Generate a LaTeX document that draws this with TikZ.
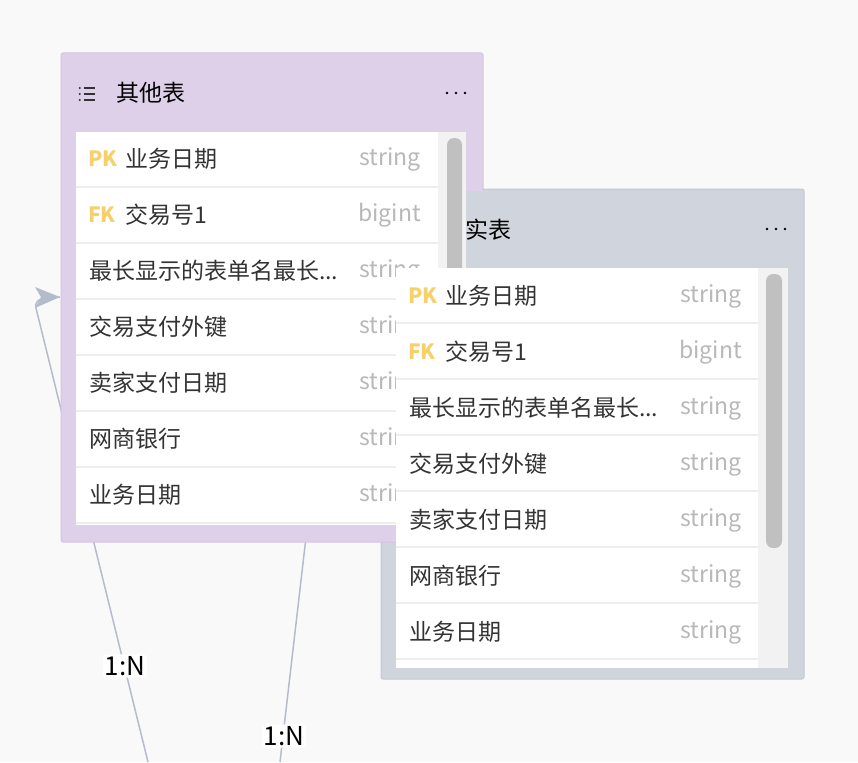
\documentclass[tikz,border=0pt]{standalone}
\usepackage{fontspec}
\setmainfont{Noto Sans CJK SC}
\usetikzlibrary{arrows.meta}
\newcommand\trdots{...}
\definecolor{bg}{HTML}{F9F9F9}
\definecolor{purp}{HTML}{DDD0E8}
\definecolor{purpb}{HTML}{D3C5E2}
\definecolor{gry}{HTML}{D0D4DC}
\definecolor{gryb}{HTML}{C4C9D3}
\definecolor{txt}{HTML}{333333}
\definecolor{typ}{HTML}{B8B8B8}
\definecolor{key}{HTML}{F5D06B}
\definecolor{sep}{HTML}{EEEEEE}
\definecolor{lin}{HTML}{B4BCCC}
\definecolor{thumb}{HTML}{C0C0C0}
\definecolor{track}{HTML}{F2F2F2}
\tikzset{
 nm/.style={anchor=west,text=txt,font=\fontsize{23}{23}\selectfont,inner sep=0pt},
 ty/.style={anchor=east,text=typ,font=\fontsize{23}{23}\selectfont,inner sep=0pt},
 ky/.style={anchor=west,text=key,font=\fontsize{21}{21}\selectfont\bfseries,inner sep=0pt},
 conn/.style={draw=lin,line width=1.5pt},
 lbl/.style={fill=white,rounded corners=4pt,text=black,font=\fontsize{26}{26}\selectfont,inner sep=2pt},
 ttl/.style={anchor=west,text=black,font=\fontsize{23}{23}\selectfont,inner sep=0pt}
}
\newcommand\tdots[2]{\fill[black] (#1-9,#2) circle (1.4pt) (#1,#2) circle (1.4pt) (#1+9,#2) circle (1.4pt);}
\begin{document}
\begin{tikzpicture}[x=1pt,y=-1pt]
\fill[bg] (0,0) rectangle (858,762);
\useasboundingbox (0,0) rectangle (858,762);
% connectors
\coordinate (l0) at (148,762);
\coordinate (lb) at (34,300);
\coordinate (ltip) at (60,297);
\coordinate (r0) at (280,762);
\coordinate (r1) at (308,520);
\draw[conn,rounded corners=8pt] (l0) -- (lb) -- (ltip);
\fill[lin] (ltip) -- ++(-25,-10) -- ++(6,10) -- ++(-6,11) -- cycle;
\draw[conn] (r0) -- (r1);
\node[lbl] (lab1) at (125,666) {1:N};
\node[lbl] (lab2) at (284,736) {1:N};
% gray box frame
\draw[fill=gry,draw=gryb,line width=1pt,rounded corners=2pt] (381,189) rectangle (804,679);
\tdots{776}{229}
% purple box
\draw[fill=purp,draw=purpb,line width=1pt,rounded corners=2pt] (61,53) rectangle (483,542);
\fill[white] (76,132) rectangle (438,525);
\fill[track] (438,132) rectangle (466,525);
\fill[thumb,rounded corners=7pt] (447,138) rectangle (462,300);
\foreach \y in {187,243,299,355,411,467,523} \draw[sep,line width=1.2pt] (76,\y) -- (438,\y);
\node[text=txt] (picon) at (87,94) {\tikz[x=1pt,y=-1pt]{\foreach \v in {-6,0,6}{\fill (-7,\v) circle (1.2pt); \draw[line width=1.4pt] (-3,\v) -- (8,\v);}}};
\node[ttl] (ptitle) at (116,93) {其他表};
\tdots{456}{93}
\node[ky] (pk1) at (88,159) {PK};
\node[nm] (pn1) at (125,159) {业务日期};
\node[ty] (pt1) at (421,159) {string};
\node[ky] (pk2) at (88,215) {FK};
\node[nm] (pn2) at (125,215) {交易号1};
\node[ty] (pt2) at (421,215) {bigint};
\foreach \y/\n in {271/最长显示的表单名最长\trdots,327/交易支付外键,383/卖家支付日期,439/网商银行,495/业务日期}{
  \node[nm] at (89,\y) {\n};
  \node[ty] at (421,\y) {string};
}
% gray header strip over purple
\fill[gry] (466,190.5) rectangle (484,268);
\begin{scope}
\clip (466,190) rectangle (600,268);
\node[ttl] (gtitle) at (442,230) {事实表};
\end{scope}
% gray list
\fill[white] (396,268) rectangle (758,668);
\fill[track] (758,268) rectangle (788,668);
\fill[thumb,rounded corners=7pt] (766,274) rectangle (782,548);
\foreach \y in {323,379,435,491,547,603,659} \draw[sep,line width=1.2pt] (396,\y) -- (758,\y);
\node[ky] (gk1) at (408,296) {PK};
\node[nm] (gn1) at (445,296) {业务日期};
\node[ty] (gt1) at (742,296) {string};
\node[ky] (gk2) at (408,352) {FK};
\node[nm] (gn2) at (445,352) {交易号1};
\node[ty] (gt2) at (742,352) {bigint};
\foreach \y/\n in {408/最长显示的表单名最长\trdots,464/交易支付外键,520/卖家支付日期,576/网商银行,632/业务日期}{
  \node[nm] at (409,\y) {\n};
  \node[ty] at (742,\y) {string};
}
\end{tikzpicture}
\end{document}
